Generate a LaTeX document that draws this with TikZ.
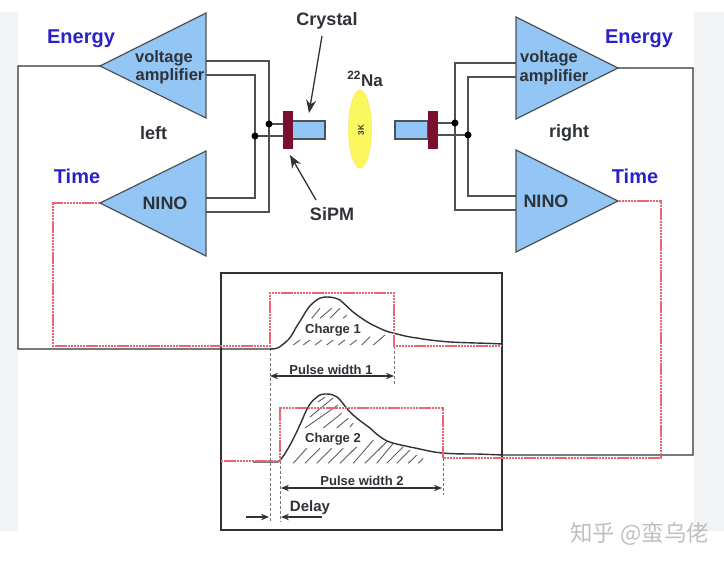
\documentclass[tikz,border=0pt]{standalone}
\usepackage{fontspec}
\setmainfont{Liberation Sans}
\newfontfamily\cjkfont{Noto Sans CJK SC}
\usetikzlibrary{arrows.meta,shapes.geometric}
\definecolor{ampblue}{HTML}{93C6F5}
\definecolor{labelblue}{HTML}{2A22C8}
\definecolor{inkdark}{HTML}{2F3338}
\definecolor{wire}{HTML}{505050}
\definecolor{redsig}{HTML}{EC6470}
\definecolor{sipmred}{HTML}{7A0F2E}
\definecolor{strip}{HTML}{F1F3F5}
\definecolor{srcyellow}{HTML}{FBF75E}
\tikzset{
  amp/.style={draw=inkdark!85,line width=1.2pt,fill=ampblue,line join=miter},
  wireline/.style={draw=wire,line width=1.8pt},
  signal/.style={draw=inkdark,line width=1.4pt},
  redline/.style={draw=redsig,line width=2.8pt,dash pattern=on 2.4pt off 0.7pt},
  solder/.style={circle,fill=black,inner sep=0pt,minimum size=7pt},
  biglabel/.style={font=\fontsize{20}{21}\selectfont\bfseries,text=labelblue,inner sep=0pt},
  amptext/.style={font=\fontsize{16.5}{17}\selectfont\bfseries,text=inkdark,inner sep=0pt},
  ninotext/.style={font=\fontsize{18}{19}\selectfont\bfseries,text=inkdark,inner sep=0pt},
  plain/.style={font=\fontsize{18}{19}\selectfont\bfseries,text=inkdark,inner sep=0pt},
  small/.style={font=\fontsize{13}{14}\selectfont\bfseries,text=inkdark,inner sep=0pt},
  guide/.style={draw=gray!90!black,line width=1pt,densely dashed},
  dim/.style={draw=inkdark,line width=1.4pt},
  hatchline/.style={draw=gray!75!black,line width=0.9pt},
  pointer/.style={draw=inkdark,line width=1.3pt,-{Stealth[length=13pt,width=10pt]}},
  dimtip/.style={{Stealth[length=8pt,width=6.5pt]}-{Stealth[length=8pt,width=6.5pt]}},
  endtip/.style={-{Stealth[length=8pt,width=6.5pt]}}
}
\begin{document}
\begin{tikzpicture}[x=1pt,y=-1pt]
\useasboundingbox (0,0) rectangle (724,565);
\fill[white] (0,0) rectangle (724,565);
\fill[strip] (0,12) rectangle (18,531);
\fill[strip] (694,12) rectangle (724,531);

% named anchor points
\coordinate (LEapex) at (100,66);
\coordinate (LTapex) at (100,203);
\coordinate (REapex) at (618,68);
\coordinate (RTapex) at (618,201);
\coordinate (LEa) at (206,61); \coordinate (LEb) at (206,75);
\coordinate (LTa) at (206,198); \coordinate (LTb) at (206,212);
\coordinate (REa) at (516,63); \coordinate (REb) at (516,77);
\coordinate (RTa) at (516,196); \coordinate (RTb) at (516,210);

% amplifiers
\draw[amp] (LEapex) -- (206,13) -- (206,118) -- cycle;
\draw[amp] (LTapex) -- (206,151) -- (206,256) -- cycle;
\draw[amp] (REapex) -- (516,17) -- (516,119) -- cycle;
\draw[amp] (RTapex) -- (516,150) -- (516,252) -- cycle;

% detector blocks
\node[draw=inkdark!85,line width=1.2pt,fill=ampblue,minimum width=33pt,minimum height=18pt,inner sep=0pt] (CL) at (308.5,130) {};
\node[draw=inkdark!85,line width=1.2pt,fill=ampblue,minimum width=33pt,minimum height=18pt,inner sep=0pt] (CR) at (411.5,130) {};
\node[fill=sipmred,minimum width=10pt,minimum height=38pt,inner sep=0pt] (SL) at (287.5,130) {};
\node[fill=sipmred,minimum width=10pt,minimum height=38pt,inner sep=0pt] (SR) at (433,130) {};
\node[ellipse,fill=srcyellow,draw=srcyellow!85!orange,line width=0.4pt,minimum width=23pt,minimum height=78pt,inner sep=0pt] (src) at (360,129) {};
\node[font=\fontsize{8}{8}\selectfont\bfseries,text=inkdark,rotate=90,inner sep=0pt] (srctext) at (361,130) {3K};

% wires with junction dots
\coordinate (LD1) at (269,124); \coordinate (LD2) at (255,136);
\coordinate (RD1) at (455,123); \coordinate (RD2) at (468,135);
\draw[wireline] (LEa) -- (269,61) -- (269,212) -- (LTb);
\draw[wireline] (LEb) -- (255,75) -- (255,198) -- (LTa);
\draw[wireline] (REa) -- (455,63) -- (455,210) -- (RTb);
\draw[wireline] (REb) -- (468,77) -- (468,196) -- (RTa);
\draw[wireline] (LD1) -- (283,124);
\draw[wireline] (LD2) -- (283,136);
\draw[wireline] (RD1) -- (438,123);
\draw[wireline] (RD2) -- (438,135);
\node[solder] (ld1) at (LD1) {};
\node[solder] (ld2) at (LD2) {};
\node[solder] (rd1) at (RD1) {};
\node[solder] (rd2) at (RD2) {};

% labels
\node[biglabel] (en1) at (81,39) {Energy};
\node[biglabel] (ti1) at (77,176) {Time};
\node[biglabel] (en2) at (639,39) {Energy};
\node[biglabel] (ti2) at (635,176) {Time};
\node[amptext] (v1) at (164,58) {voltage};
\node[amptext] (a1) at (170,76) {amplifier};
\node[amptext] (v2) at (549,58) {voltage};
\node[amptext] (a2) at (554,77) {amplifier};
\node[ninotext] (n1) at (165,203) {NINO};
\node[ninotext] (n2) at (546,201) {NINO};
\node[plain] (lft) at (153.5,133) {left};
\node[plain] (rgt) at (569,133) {right};
\node[plain] (cry) at (327,21) {Crystal};
\node[plain] (sip) at (332,214) {SiPM};
\node[font=\fontsize{17}{18}\selectfont\bfseries,text=inkdark,inner sep=0pt] (na) at (365,79) {\textsuperscript{22}Na};
\coordinate (crytip) at (309,113);
\coordinate (siptip) at (290,155);
\draw[pointer] (322,36) -- (crytip);
\draw[pointer] (316,200) -- (siptip);

% panel
\node[draw=inkdark,line width=1.4pt,minimum width=281pt,minimum height=257pt,inner sep=0pt] (panel) at (361.5,401.5) {};

% guides
\draw[guide] (270,348) -- (270,522);
\draw[guide] (394,346) -- (394,385);
\draw[guide] (280,461) -- (280,522);
\draw[guide] (443,458) -- (443,495);

% hatching, charge 1
\foreach \a/\b/\c/\d in {
 311.7/318.3/320/308.3, 320/318.3/331.7/308.3, 330/318.3/340/308.3, 343.3/318.3/346.7/315,
 293.3/345/300/340, 303.3/345/310/340, 315/345/321.7/340, 326.7/345/333.3/340,
 338.3/345/345/340, 350/345/356.7/340, 361.7/345/370/336.7, 373.3/345/385/335}
 \draw[hatchline] (\a,\b) -- (\c,\d);
% hatching, charge 2
\foreach \a/\b/\c/\d in {
 318/402/325/397, 310/417/333/398, 305/428/338/405, 323.3/428/341.7/413.3, 336.7/428/348.3/418.3, 350/427/353.3/423,
 293.3/463.3/306.7/448.3, 305/463.3/320/448.3, 316.7/463.3/331.7/448.3, 328.3/463.3/343.3/448.3,
 340/463.3/356.7/446.7, 353.3/463.3/373.3/440, 365/463.3/386.7/441.7, 376.7/463.3/393.3/443.3,
 386.7/463.3/403.3/446.7, 396.7/463.3/410/450, 408.3/463.3/416.7/455, 418.3/463.3/423.3/458.3}
 \draw[hatchline] (\a,\b) -- (\c,\d);

\node[small] (c1) at (333,330) {Charge 1};
\node[small] (c2) at (333,439) {Charge 2};
\node[small] (p1) at (331,369.5) {Pulse width 1};
\node[small] (p2) at (362,480.5) {Pulse width 2};
\node[font=\fontsize{15}{16}\selectfont\bfseries,text=inkdark,inner sep=0pt] (dl) at (310,508) {Delay};

\coordinate (PW1a) at (270,376); \coordinate (PW1b) at (394,376);
\coordinate (PW2a) at (281,488); \coordinate (PW2b) at (442,488);
\draw[dim,dimtip] (PW1a) -- (PW1b);
\draw[dim,dimtip] (PW2a) -- (PW2b);
\coordinate (Da) at (246,517); \coordinate (Db) at (269,517);
\coordinate (Dc) at (322,517); \coordinate (Dd) at (281,517);
\draw[dim,endtip] (Da) -- (Db);
\draw[dim,endtip] (Dc) -- (Dd);

% energy signals
\draw[signal] (LEapex) -- (18,66) -- (18,349) -- (270,349)
  .. controls (276,349) and (279,348) .. (282,345)
  .. controls (288,341) and (290,338) .. (293,333)
  .. controls (296,327) and (299,323) .. (302,318)
  .. controls (306,311) and (309,306) .. (313,303)
  .. controls (318,298) and (322,297) .. (327,297)
  .. controls (332,297) and (336,298) .. (340,300)
  .. controls (346,305) and (351,311) .. (357,315)
  .. controls (364,320) and (370,324) .. (377,327)
  .. controls (383,330) and (388,332) .. (393,333)
  .. controls (401,335) and (408,337) .. (417,338)
  .. controls (428,340) and (438,341) .. (450,342)
  .. controls (468,343) and (485,343) .. (502,344);
\draw[signal] (253,462) -- (278,462)
  .. controls (283,458) and (286,452) .. (290,445)
  .. controls (295,436) and (299,427) .. (303,418)
  .. controls (307,408) and (311,401) .. (317,397)
  .. controls (320,394) and (324,394) .. (327,394)
  .. controls (331,394) and (334,395) .. (337,397)
  .. controls (342,401) and (345,407) .. (350,412)
  .. controls (356,418) and (363,423) .. (370,428)
  .. controls (375,433) and (381,438) .. (387,441)
  .. controls (394,444) and (402,445) .. (410,447)
  .. controls (421,449) and (431,452) .. (442,453)
  .. controls (454,454) and (466,454) .. (477,454)
  -- (503,455) -- (693,455) -- (693,68) -- (REapex);

% time signals
\draw[redline] (LTapex) -- (53,203) -- (53,346) -- (270,346) -- (270,293) -- (394,293) -- (394,346) -- (502,346);
\draw[redline] (221,461) -- (280,461) -- (280,408) -- (443,408) -- (443,458) -- (661,458) -- (661,201) -- (RTapex);

% watermark
\node[font=\cjkfont\fontsize{22.5}{23}\selectfont,text=gray!50,inner sep=0pt,anchor=west] (wm) at (570,534) {知乎 @蛮乌佬};
\end{tikzpicture}
\end{document}
